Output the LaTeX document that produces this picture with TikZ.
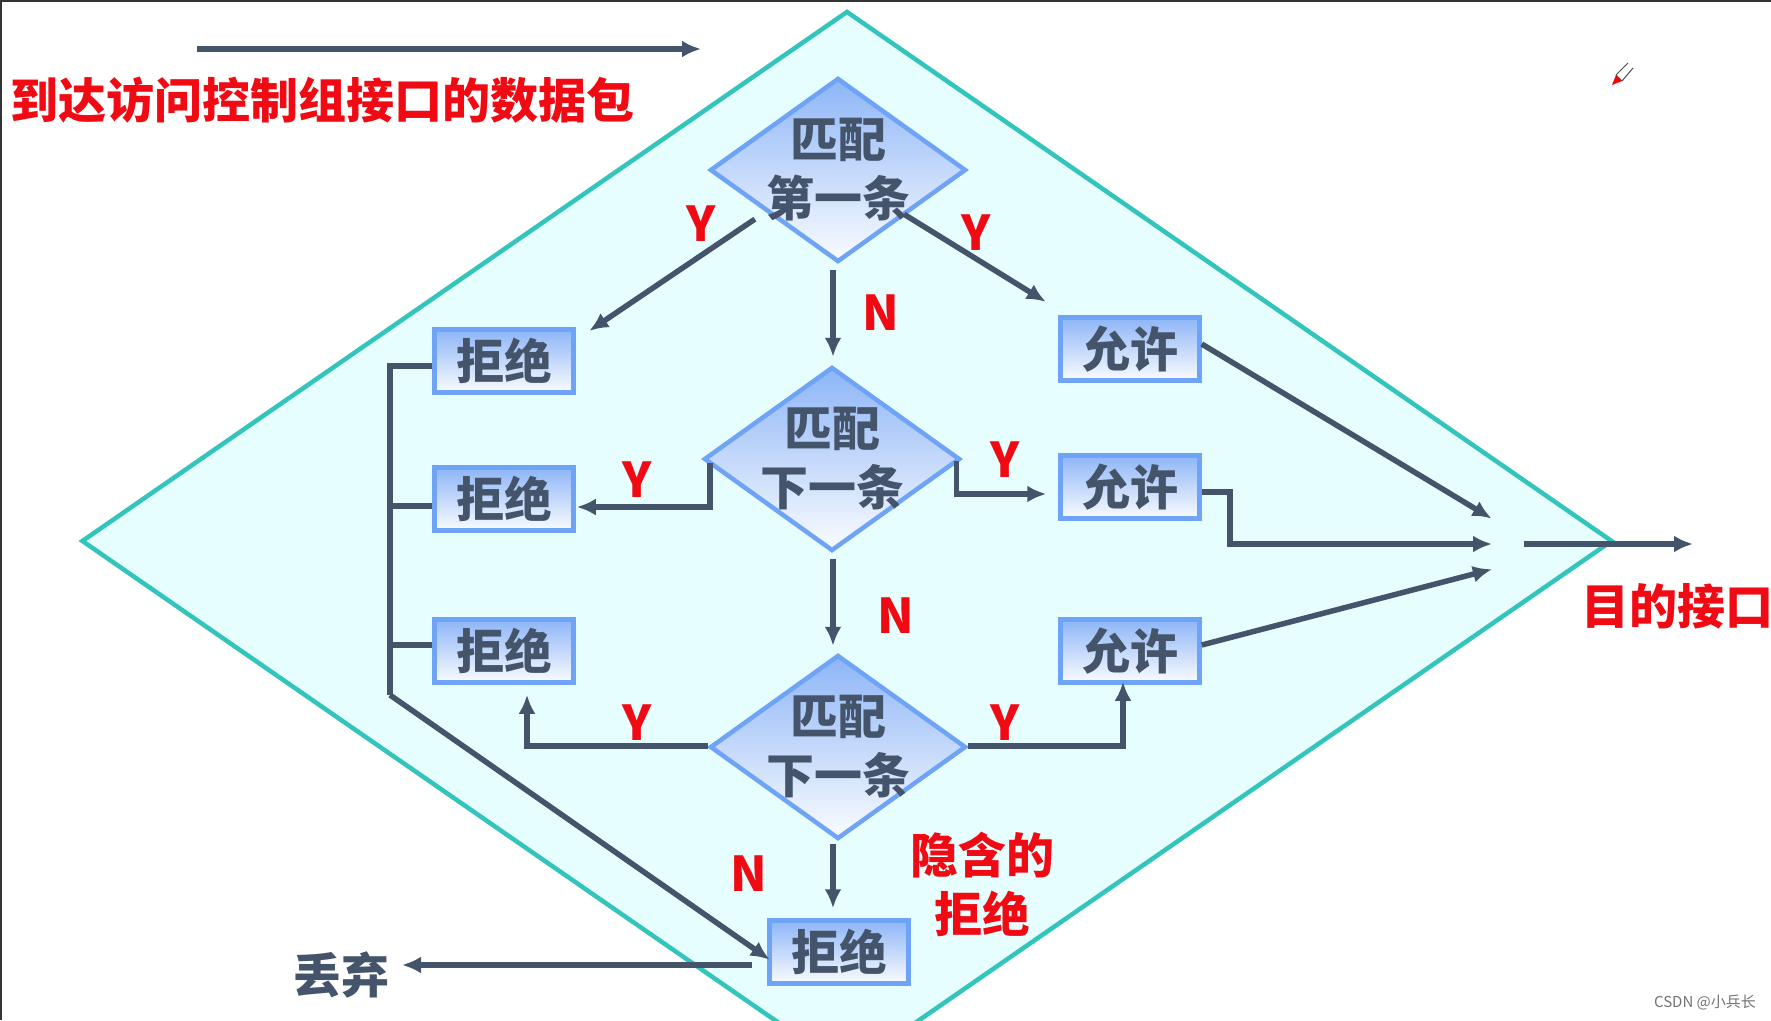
\documentclass[tikz,border=0pt]{standalone}
\usepackage{fontspec}
\setmainfont{Noto Sans CJK SC}[BoldFont={Noto Sans CJK SC Black}]
\usepackage{tikz}
\usetikzlibrary{arrows.meta,positioning,shapes.geometric}

\definecolor{flowgray}{HTML}{44546A}
\definecolor{edgeblue}{HTML}{6FA3F5}
\definecolor{topblue}{HTML}{8DB5F7}
\definecolor{paleblue}{HTML}{FAFCFF}
\definecolor{teal}{HTML}{33C4BC}
\definecolor{palecyan}{HTML}{E6FEFE}
\definecolor{tagred}{HTML}{F00A14}

\tikzset{
  big/.style={font=\fontsize{48}{59}\selectfont\bfseries},
  test/.style={diamond, big, draw=edgeblue, line width=4.5pt, top color=topblue, bottom color=paleblue,
    text=flowgray, align=center, aspect=1.39, inner sep=-16pt, minimum width=256pt, minimum height=184pt},
  verdict/.style={rectangle, big, draw=edgeblue, line width=4.5pt, top color=topblue, bottom color=paleblue,
    text=flowgray, minimum width=139pt, minimum height=63pt, inner sep=0pt},
  tag/.style={big, text=tagred, align=center, inner sep=0pt},
  flow/.style={draw=flowgray, line width=5.5pt, shorten >=-3pt, -{Latex[length=19pt,width=17pt]}},
  rail/.style={draw=flowgray, line width=5.5pt}
}

\begin{document}
\begin{tikzpicture}[x=1pt,y=-1pt,on grid]
   \clip (0,0) rectangle (1771,1020);
   \fill[white] (0,0) rectangle (1771,1020);
   \draw[black!80,line width=3pt] (0,0) -- (1771,0) (0,0) -- (0,1020);

   \node[diamond, draw=teal, line width=4.5pt, fill=palecyan, aspect=1.44, inner sep=0pt,
         minimum width=1531pt, minimum height=1060pt] (zone) at (847,541) {};

   % decisions
   \node[test] (d1) at (838,170) {匹配\\第一条};
   \node[test] (d2) [below left=289pt and 6pt of d1] {匹配\\下一条};
   \node[test] (d3) [below right=288pt and 6pt of d2] {匹配\\下一条};

   % verdicts
   \node[verdict] (r1) at (504,361) {拒绝};
   \node[verdict] (r2) [below=138pt of r1] {拒绝};
   \node[verdict] (r3) [below=152pt of r2] {拒绝};
   \node[verdict] (r4) at (839,952) {拒绝};
   \node[verdict] (a1) at (1130,349) {允许};
   \node[verdict] (a2) [below=138pt of a1] {允许};
   \node[verdict] (a3) [below=164pt of a2] {允许};

   % free ends
   \coordinate (intop) at (197,49);
   \coordinate (intip) at (698,49);
   \coordinate (rail1) at (390,366);
   \coordinate (rail2) at (390,695);
   \coordinate (merge1) at (1489,517);
   \coordinate (merge2) at (1489,544);
   \coordinate (merge3) at (1489,570);
   \coordinate (exit) at (1524,544);
   \coordinate (exittip) at (1690,544);
   \coordinate (droptip) at (405,965);

   % texts
   \node[tag] (title) at (322,100) {到达访问控制组接口的数据包};
   \node[tag] (port) at (1677,606) {目的接口};
   \node[tag] (implicit) at (982,884) {隐含的\\拒绝};
   \node[big, text=flowgray, inner sep=0pt] (drop) at (341,975) {丢弃};
   \node[tag] (y1) at (701,224) {Y};
   \node[tag] (y2) at (976,233) {Y};
   \node[tag] (n1) at (881,313) {N};
   \node[tag] (y3) at (637,480) {Y};
   \node[tag] (y4) at (1005,460) {Y};
   \node[tag] (n2) at (896,616) {N};
   \node[tag] (y5) at (637,723) {Y};
   \node[tag] (y6) at (1005,723) {Y};
   \node[tag] (n3) at (749,874) {N};
   \node[text=black!55, font=\fontsize{15}{18}\selectfont, inner sep=0pt] (mark) at (1705,1003) {CSDN @小兵长};

   % flow
   \draw[flow] (intop) -- (intip);
   \draw[flow] ([shift={(-18,2)}]d1.south west) -- ([shift={(16,2)}]r1.north east);
   \draw[flow] ([shift={(-5,6)}]d1.south) -- ([shift={(1,-11)}]d2.north);
   \draw[flow] ([shift={(66,-50)}]d1.south) -- ([shift={(-15,-15)}]a1.north west);
   \draw[flow] ([shift={(8,4)}]d2.west) |- ([shift={(4,8)}]r2.east);
   \draw[flow] ([shift={(-6,2)}]d2.east) |- ([shift={(-15,7)}]a2.west);
   \draw[flow] ([shift={(1,6)}]d2.south) -- ([shift={(-5,-10)}]d3.north);
   \draw[flow] ([yshift=1pt]d3.west) -| ([shift={(23,13)}]r3.south);
   \draw[flow] ([yshift=1pt]d3.east) -| ([shift={(-7,0)}]a3.south);
   \draw[flow] ([shift={(-5,3)}]d3.south) -- ([shift={(-6,-13)}]r4.north);
   \draw[flow] ([shift={(-15,13)}]r4.west) -- (droptip);
   \draw[rail] (r1.west |- rail1) -- (rail1) -- (rail2);
   \draw[rail] ([yshift=-7pt]r2.west) -| (rail1);
   \draw[rail] ([yshift=6pt]r3.west) -| (rail1);
   \draw[flow] (rail2) -- ([yshift=-6pt]r4.west);
   \draw[flow] ([yshift=5pt]a1.east) -- (merge1);
   \draw[flow] ([yshift=-5pt]a2.east) -- ++(28,0) |- (merge2);
   \draw[flow] ([yshift=6pt]a3.east) -- (merge3);
   \draw[flow] (exit) -- (exittip);

   % pencil
   \fill[red] (1612,85) -- (1616,75) -- (1622,81) -- cycle;
   \draw[black!70,line width=1pt] (1616,75) -- (1628,63) (1622,81) -- (1633,68) (1616,75) -- (1622,81);
\end{tikzpicture}
\end{document}
